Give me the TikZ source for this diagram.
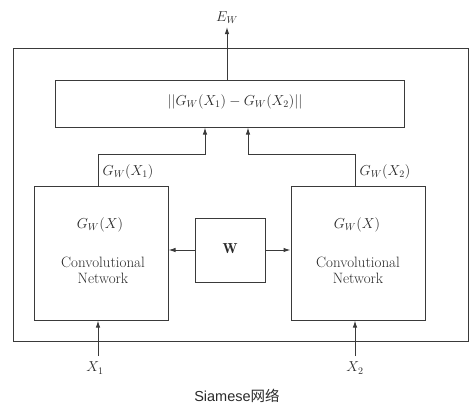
\documentclass[tikz,border=0pt]{standalone}
\usepackage{fontspec}
\newfontfamily\capfont{Liberation Sans}
\newfontfamily\cjk{Noto Sans CJK SC}
\usetikzlibrary{arrows.meta}
\definecolor{ln}{HTML}{3A3A3A}
\definecolor{tx}{HTML}{2A2A2A}
\tikzset{
  box/.style={draw=ln, line width=1pt, inner sep=0pt, minimum width=#1},
  arr/.style={draw=ln, line width=1pt, -{Latex[length=7pt,width=4.5pt]}},
  mth/.style={text=tx, inner sep=0pt, font=\fontsize{14.5}{16}\selectfont},
  txt/.style={text=tx, inner sep=0pt, font=\fontsize{15}{16}\selectfont, align=center},
}
\begin{document}
\begin{tikzpicture}[x=1pt,y=-1pt]
\useasboundingbox (0,0) rectangle (474,405);
% outer frame
\node[box=455pt, minimum height=293pt] (frame) at (240.5,194.5) {};
% top difference box
\node[box=349pt, minimum height=47pt] (top) at (229.5,103.5) {};
\node[mth] (diff) at (235,102) {$||G_W(X_1)-G_W(X_2)||$};
% left and right networks
\node[box=134pt, minimum height=134pt] (left) at (101,253) {};
\node[box=134pt, minimum height=134pt] (right) at (358,253) {};
\node[mth] (gl) at (100,225) {$G_W(X)$};
\node[mth] (gr) at (357,225) {$G_W(X)$};
\node[txt] (cl) at (103,270) {Convolutional\\Network};
\node[txt] (cr) at (358,270) {Convolutional\\Network};
% W box
\node[box=70pt, minimum height=64pt] (w) at (230,250) {};
\node[mth] (wl) at (230,249) {$\mathbf{W}$};
% coordinates
\coordinate (eo) at (227,27);
\coordinate (l1) at (98,154);
\coordinate (tl) at (205,127);
\coordinate (r1) at (355,154);
\coordinate (tr) at (248,127);
\coordinate (x1) at (98,356);
\coordinate (x2) at (355,356);
% labels
\node[mth, anchor=south] (ew) at (227,24) {$E_W$};
\node[mth] (g1) at (128,172) {$G_W(X_1)$};
\node[mth] (g2) at (385,172) {$G_W(X_2)$};
\node[mth] (lx1) at (95,368) {$X_1$};
\node[mth] (lx2) at (355,368) {$X_2$};
\node[text=tx, inner sep=0pt, font=\fontsize{14.5}{16}\selectfont] (cap) at (237,396) {\capfont Siamese\cjk 网络};
% connectors
\draw[arr] (top.north -| eo) -- (eo);
\draw[arr] (left.north -| l1) -- (l1) -| (top.south -| tl);
\draw[arr] (right.north -| r1) -- (r1) -| (top.south -| tr);
\draw[arr] (w.west) -- (w.west -| left.east);
\draw[arr] (w.east) -- (w.east -| right.west);
\draw[arr] (x1) -- (left.south -| x1);
\draw[arr] (x2) -- (right.south -| x2);
\end{tikzpicture}
\end{document}
